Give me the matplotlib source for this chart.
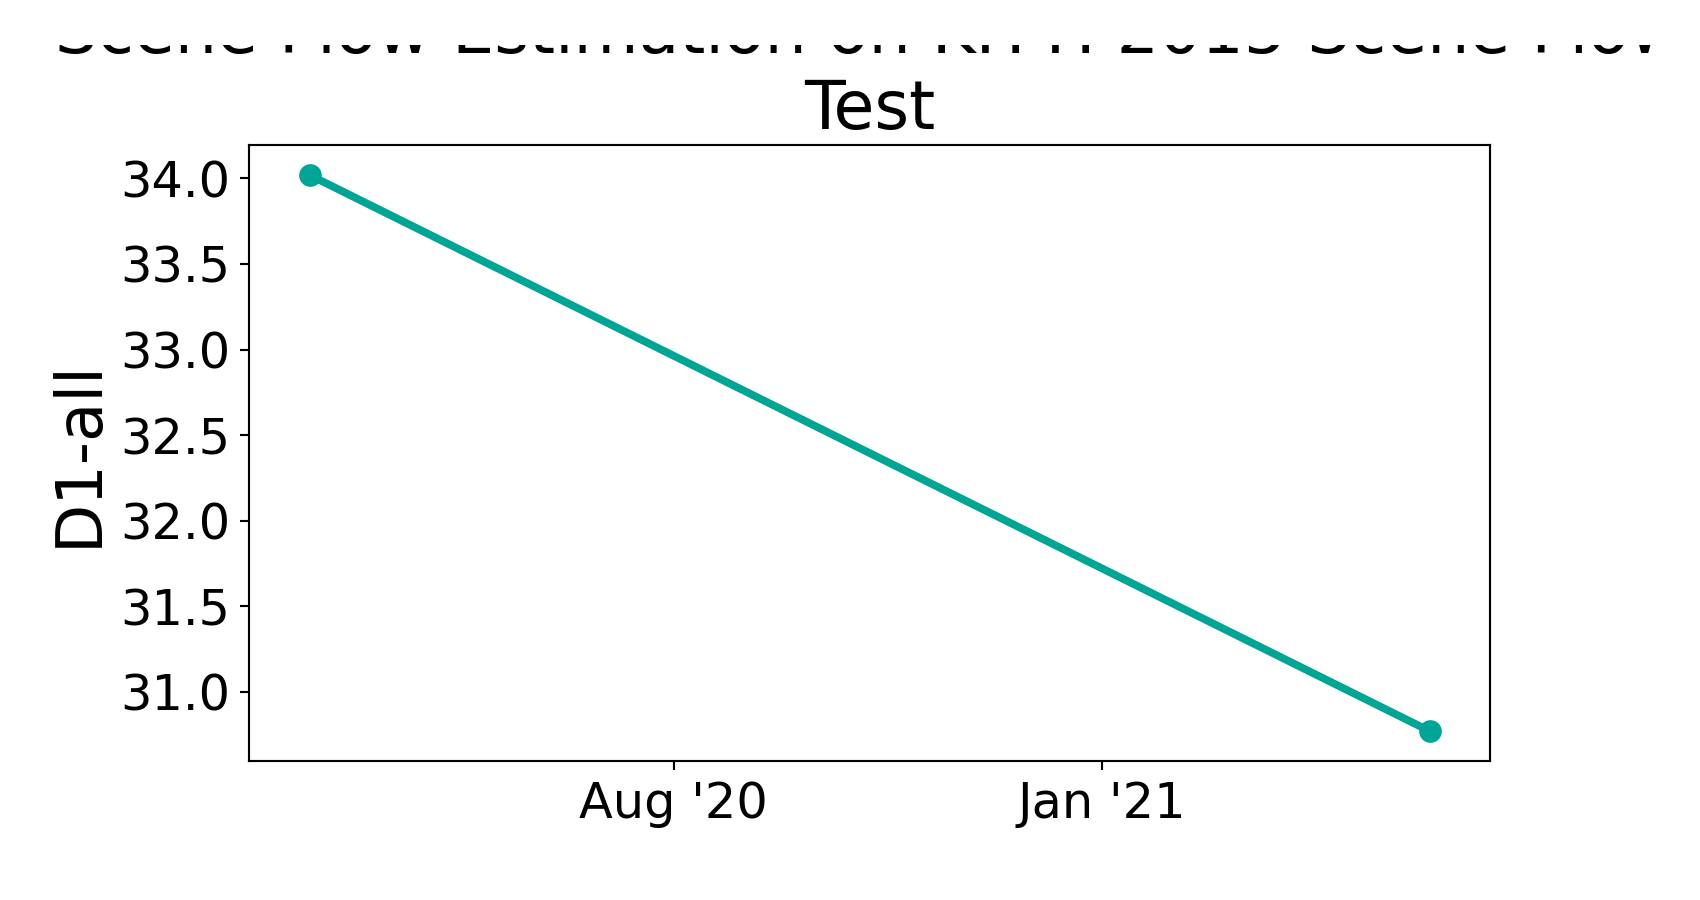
import numpy as np
import pandas as pd
import matplotlib
matplotlib.use('Agg')
import matplotlib.pyplot as plt
import matplotlib.dates as mdates
from matplotlib.ticker import MultipleLocator, FormatStrFormatter
from matplotlib.transforms import Bbox, TransformedBbox

# values
dates = pd.to_datetime(['2020-03-24', '2021-04-28'])
d1_all = [34.02, 30.77]
tick_dates = pd.to_datetime(['2020-08-01', '2021-01-01'])
title = 'Scene Flow Estimation on KITTI 2015 Scene Flow\nTest'

fig, ax = plt.subplots(figsize=(1700 / 192, 900 / 192), dpi=192)
fig.subplots_adjust(left=0.1465, right=0.8765, bottom=0.1544, top=0.8389)

ax.plot(dates, d1_all, color='#00a596', linewidth=2.9, marker='o', markersize=7.5)
ax.margins(0.054)

ax.set_xticks(tick_dates)
ax.xaxis.set_major_formatter(mdates.DateFormatter("%b '%y"))
ax.yaxis.set_major_locator(MultipleLocator(0.5))
ax.yaxis.set_major_formatter(FormatStrFormatter('%.1f'))
ax.tick_params(axis='both', labelsize=18.5)
ax.set_ylabel('D1-all', fontsize=24)

# the original image cuts the first title line off at the top and right
t = ax.set_title(title, fontsize=25)
t.set_clip_on(True)
t.set_clip_box(TransformedBbox(Bbox.from_extents(0, 0, 1660 / 1700, 855 / 900), fig.transFigure))

fig.savefig('out.png', dpi=192)
